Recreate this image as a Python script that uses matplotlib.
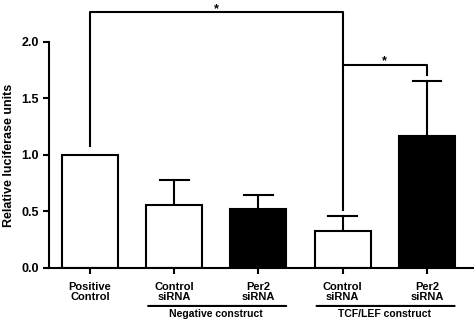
import matplotlib
matplotlib.use("Agg")
import matplotlib.pyplot as plt
import numpy as np

plt.rcParams["font.family"] = ["Liberation Sans", "DejaVu Sans"]
plt.rcParams["font.weight"] = "bold"

# ── data ──────────────────────────────────────────────────────────────────────
labels = ["Positive\nControl", "Control\nsiRNA", "Per2\nsiRNA", "Control\nsiRNA", "Per2\nsiRNA"]
means = [1.0, 0.56, 0.52, 0.33, 1.17]
sem = [0.0, 0.22, 0.13, 0.13, 0.48]
fills = ["white", "white", "black", "white", "black"]
groups = ["Negative construct", "TCF/LEF construct"]
group_members = [(1, 2), (3, 4)]
yticks = [0.0, 0.5, 1.0, 1.5, 2.0]

x = np.arange(len(labels))
lw = 1.5

fig = plt.figure(figsize=(4.74, 3.22), dpi=100)
ax = fig.add_axes([49 / 474, 54 / 322, 425 / 474, 260 / 322])

ax.bar(x, means, width=0.665, color=fills, edgecolor="black", linewidth=lw, zorder=2)

# upper error bars only
for xi, m, e in zip(x, means, sem):
    if e > 0:
        ax.plot([xi, xi], [m, m + e], color="black", lw=lw, zorder=1)
        ax.plot([xi - 0.17, xi + 0.17], [m + e, m + e], color="black", lw=lw, zorder=1)

# significance brackets
top = 2.265
ax.plot([0, 0, 3, 3], [1.08, top, top, means[3] + sem[3] + 0.05], color="black", lw=lw, clip_on=False)
ax.text(1.5, top, "*", ha="center", va="baseline", fontsize=9)
mid = 1.80
ax.plot([3, 4, 4], [mid, mid, 1.71], color="black", lw=lw, clip_on=False)
ax.text(3.5, mid, "*", ha="center", va="baseline", fontsize=9)

ax.set_xlim(-0.487, 4.56)
ax.set_ylim(0, 2.3)
ax.spines["top"].set_visible(False)
ax.spines["right"].set_visible(False)
ax.spines["left"].set_bounds(0, 2.0)
ax.spines["left"].set_linewidth(lw)
ax.spines["bottom"].set_linewidth(lw)

ax.set_yticks(yticks)
ax.set_yticklabels([f"{v:.1f}" for v in yticks], fontsize=9, fontweight="bold")
ax.set_xticks(x)
ax.set_xticklabels(labels, fontsize=8, fontweight="bold", linespacing=1.05)
ax.tick_params(axis="both", width=lw, length=4, direction="out")
ax.tick_params(axis="x", pad=6)
ax.set_ylabel("Relative luciferase units", fontsize=9, fontweight="bold")
ax.yaxis.set_label_coords(-0.08, 1.0 / 2.3)

# group underlines and names
for name, (a, b) in zip(groups, group_members):
    ax.annotate("", xy=(a - 0.31, -0.146), xytext=(b + 0.33, -0.146),
                xycoords=("data", "axes fraction"), textcoords=("data", "axes fraction"),
                arrowprops=dict(arrowstyle="-", lw=lw, color="black", shrinkA=0, shrinkB=0))
    ax.text((a + b) / 2, -0.158, name, transform=ax.get_xaxis_transform(),
            ha="center", va="top", fontsize=7.5, fontweight="bold")

fig.savefig("out.png", dpi=100)
